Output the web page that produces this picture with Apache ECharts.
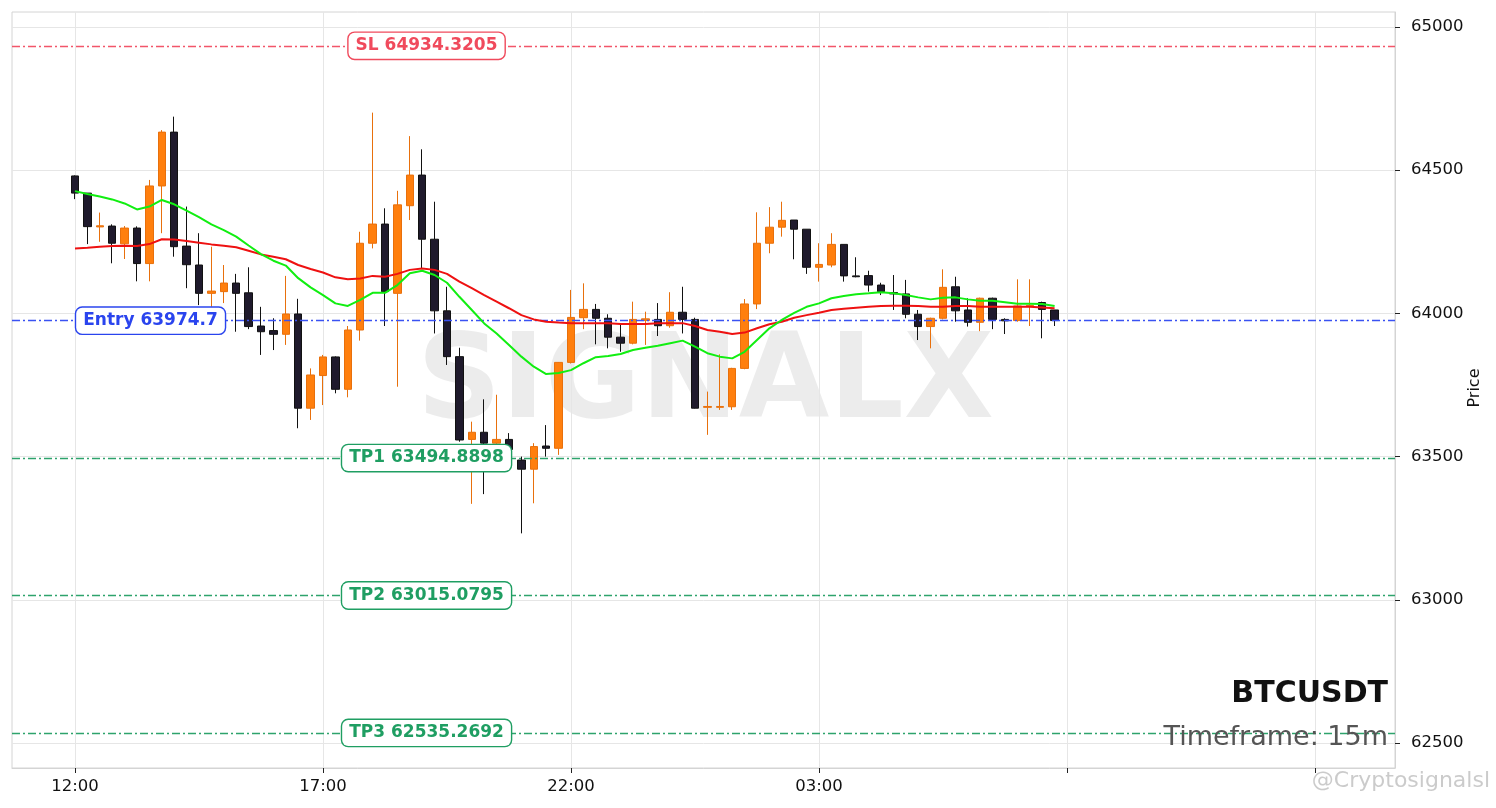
<!DOCTYPE html>
<html><head><meta charset="utf-8">
<script src="https://cdn.jsdelivr.net/npm/echarts@6/dist/echarts.min.js"></script>
<style>html,body{margin:0;padding:0;background:#fff}#c{width:1496px;height:808px}</style>
</head><body><div id="c"></div>
<script>
// 15m candles, first candle at 12:00
const opens  = [64480,64420,64302,64305,64243,64298,64174,64445,64633,64235,64169,64070,64076,64106,64072,63956,63940,63927,63998,63669,63783,63848,63735,63942,64245,64312,64070,64376,64483,64259,64009,63849,63560,63585,63547,63560,63488,63456,63537,63529,63829,63985,64014,63983,63917,63896,63975,63979,63957,64004,63979,63672,63672,63674,63808,64033,64245,64301,64326,64294,64161,64169,64241,64131,64132,64099,64073,64068,63997,63954,63983,64093,64012,63969,64053,63979,63975,64024,64038,64012];
const closes = [64420,64303,64306,64245,64298,64174,64445,64633,64233,64170,64070,64078,64106,64070,63954,63936,63927,63998,63669,63785,63848,63735,63942,64245,64312,64076,64379,64483,64259,64009,63849,63558,63585,63547,63560,63525,63456,63535,63529,63829,63986,64014,63983,63917,63896,63979,63981,63957,64004,63979,63669,63675,63675,63808,64033,64245,64301,64325,64294,64161,64171,64241,64131,64128,64099,64076,64068,63997,63954,63983,64091,64009,63969,64053,63979,63974,64026,64028,64014,63975];
const lows   = [64399,64242,64250,64175,64190,64112,64112,64280,64198,64088,64029,64023,64036,63936,63945,63855,63872,63890,63599,63628,63680,63721,63707,63905,64227,63956,63744,64326,64158,63930,63820,63552,63335,63369,63506,63488,63232,63337,63500,63506,63825,63945,63892,63878,63866,63892,63890,63921,63950,63930,63668,63576,63663,63663,63805,64015,64210,64268,64189,64138,64111,64161,64111,64126,64076,64064,64012,63983,63907,63878,63979,63971,63954,63938,63945,63928,63971,63956,63913,63956];
const highs  = [64482,64420,64352,64311,64305,64304,64466,64640,64687,64373,64280,64233,64169,64138,64161,64023,63983,64131,64051,63808,63855,63850,63956,64285,64701,64367,64428,64619,64573,64390,64093,63880,63622,63700,63716,63582,63500,63547,63610,63830,64082,64105,64033,63997,63960,64041,64006,64036,64074,64093,63985,63727,63857,63810,64050,64353,64371,64390,64326,64294,64245,64280,64241,64196,64149,64107,64134,64117,64012,63985,64154,64128,64053,64055,64055,63983,64119,64119,64041,64012];
const emaFast = [64427,64417,64408,64398,64384,64363,64373,64396,64381,64359,64336,64311,64291,64268,64237,64207,64184,64167,64123,64091,64064,64035,64026,64047,64072,64072,64099,64140,64149,64134,64107,64058,64012,63965,63930,63890,63849,63814,63788,63792,63802,63826,63847,63851,63858,63872,63880,63887,63896,63905,63884,63861,63849,63843,63866,63907,63948,63977,64002,64023,64035,64053,64061,64067,64070,64074,64070,64064,64056,64049,64055,64056,64049,64044,64044,64039,64034,64034,64033,64026];
const emaSlow = [64227,64229,64233,64235,64236,64235,64242,64259,64258,64253,64247,64241,64236,64231,64219,64206,64198,64189,64169,64155,64143,64126,64119,64122,64131,64128,64138,64152,64157,64152,64138,64111,64088,64064,64041,64018,63994,63979,63971,63968,63966,63966,63966,63966,63963,63963,63963,63966,63966,63966,63956,63942,63936,63928,63933,63948,63962,63971,63985,63994,64002,64012,64016,64020,64023,64026,64027,64027,64026,64023,64023,64026,64026,64023,64023,64023,64023,64023,64021,64018];
const xTickPos = [0,20,40,60,80,100];
const xTickLabels = ['12:00','17:00','22:00','03:00','',''];
const yTicks = [62500,63000,63500,64000,64500,65000];
const levelNames  = ['SL','Entry','TP1','TP2','TP3'];
const levelValues = [64934.3205,63974.7,63494.8898,63015.0795,62535.2692];

const FONT = 'DejaVu Sans';
const styleFor = n => n==='SL' ? {line:'#f2566a', text:'#f04a5c'} : n==='Entry' ? {line:'#3a52f2', text:'#2a44ee'} : {line:'#2ea36c', text:'#1f9e62'};
const labelX = n => n==='Entry' ? 6.09 : 28.35;

const candleData = opens.map((o,i)=>[i,o,closes[i],lows[i],highs[i]]);
const fastData = emaFast.map((v,i)=>[i,v]);
const slowData = emaSlow.map((v,i)=>[i,v]);

const chart = echarts.init(document.getElementById('c'), null, {renderer:'canvas'});
chart.setOption({
  animation:false,
  backgroundColor:'#ffffff',
  textStyle:{fontFamily:FONT},
  grid:{left:12, right:101, top:12, bottom:40, show:true, borderColor:'#d4d4d4', borderWidth:1, backgroundColor:'transparent', containLabel:false, outerBoundsMode:'none'},
  xAxis:{
    type:'value', min:-5.08, max:106.45,
    axisLine:{show:true, onZero:false, lineStyle:{color:'#d4d4d4'}},
    axisTick:{show:true, length:5, lineStyle:{color:'#222'}, customValues:xTickPos},
    axisLabel:{show:true, customValues:[0,20,40,60], fontFamily:FONT, fontSize:16.5, color:'#111', margin:10,
      formatter:v=>{const k=xTickPos.indexOf(Math.round(v)); return k>=0?xTickLabels[k]:'';}},
    splitLine:{show:true, lineStyle:{color:'#e6e6e6'}}
  },
  yAxis:{
    type:'value', position:'right', min:62412.7, max:65052.4, scale:true,
    axisLine:{show:true, onZero:false, lineStyle:{color:'#d4d4d4'}},
    axisTick:{show:true, length:5, lineStyle:{color:'#222'}, customValues:yTicks},
    axisLabel:{show:true, customValues:yTicks, fontFamily:FONT, fontSize:16.5, color:'#111', margin:16, formatter:v=>String(Math.round(v))},
    splitLine:{show:true, lineStyle:{color:'#e6e6e6'}}
  },
  graphic:[
    {type:'text', z:0, top:328, left:417, style:{text:'SIGNALX', fontFamily:FONT, fontWeight:'bold', fontSize:117, fill:'rgba(120,120,120,0.14)'}},
    {type:'text', x:1475, y:388, rotation:Math.PI/2, z:100, style:{text:'Price', fontFamily:FONT, fontSize:16, fill:'#111', align:'center', verticalAlign:'middle'}},
    {type:'text', right:108, top:679, z:100, style:{text:'BTCUSDT', fontFamily:FONT, fontWeight:'bold', fontSize:30, fill:'#111'}},
    {type:'text', right:108, top:724, z:100, style:{text:'Timeframe: 15m', fontFamily:FONT, fontSize:27, fill:'#555'}},
    {type:'text', right:6, top:770, z:100, style:{text:'@Cryptosignalsl', fontFamily:FONT, fontSize:22, fill:'rgba(160,160,160,0.55)'}}
  ],
  series:[
    {type:'candlestick', data:candleData, encode:{x:0, y:[1,2,3,4]}, barWidth:8, z:3,
      itemStyle:{color:'#ff7f0e', color0:'#1f1a2c', borderColor:'#e8700c', borderColor0:'#111111', borderWidth:1}},
    {type:'line', data:slowData, showSymbol:false, symbol:'none', z:5, lineStyle:{color:'#ee1111', width:2}},
    {type:'line', data:fastData, showSymbol:false, symbol:'none', z:6, lineStyle:{color:'#11ee11', width:2}},
    {type:'line', data:[], z:8, symbol:'none',
      markLine:{silent:true, symbol:'none', animation:false, label:{show:false},
        data:levelValues.map((v,k)=>({yAxis:v, lineStyle:{color:styleFor(levelNames[k]).line, width:1.3, type:[8,3,2,3]}}))},
      markPoint:{silent:true, symbol:'circle', symbolSize:0, animation:false,
        data:levelValues.map((v,k)=>{const s=styleFor(levelNames[k]); return {coord:[labelX(levelNames[k]), v],
          label:{show:true, position:'inside', formatter:levelNames[k]+' '+v, fontFamily:FONT, fontWeight:'bold', fontSize:17, color:s.text,
            backgroundColor:'#ffffff', borderColor:s.text, borderWidth:1.4, borderRadius:6, padding:[5,7,4,7]}};})}
    }
  ]
});
</script></body></html>
